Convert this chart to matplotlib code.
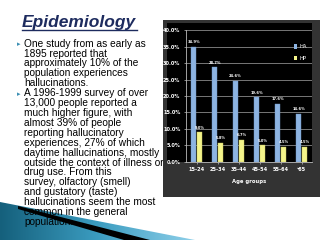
import numpy as np
import matplotlib
matplotlib.use("Agg")
import matplotlib.pyplot as plt
from matplotlib.patches import Rectangle, Polygon, Patch

# chart data
age_groups = ["15-24", "25-34", "35-44", "45-54", "55-64", "³65"]
ha_values = [34.9, 28.7, 24.6, 19.6, 17.6, 14.6]
hp_values = [9.0, 5.8, 6.7, 5.0, 4.5, 4.5]
series_names = ["HA", "HP"]

title = "Epidemiology"
bullet_lines = [
    ["One study from as early as",
     "1895 reported that",
     "approximately 10% of the",
     "population experiences",
     "hallucinations."],
    ["A 1996-1999 survey of over",
     "13,000 people reported a",
     "much higher figure, with",
     "almost 39% of people",
     "reporting hallucinatory",
     "experiences, 27% of which",
     "daytime hallucinations, mostly",
     "outside the context of illness or",
     "drug use. From this",
     "survey, olfactory (smell)",
     "and gustatory (taste)",
     "hallucinations seem the most",
     "common in the general",
     "population."],
]

W, H = 320, 240
fig = plt.figure(figsize=(3.2, 2.4), dpi=100)
fig.patch.set_facecolor("white")


def frac(x0, y0, x1, y1):
    # pixel box (top-left origin) -> figure fraction rect
    return [x0 / W, 1 - y1 / H, (x1 - x0) / W, (y1 - y0) / H]


# slide background layer in pixel coords
bg = fig.add_axes([0, 0, 1, 1])
bg.set_xlim(0, W)
bg.set_ylim(H, 0)
bg.axis("off")

# decorative swoosh bottom left
swoosh = Polygon([(0, 202), (195, 240), (0, 240)], closed=True,
                 facecolor="none", edgecolor="none")
bg.add_patch(swoosh)
grad = np.linspace(0, 1, 256).reshape(1, -1)
cmap = matplotlib.colors.LinearSegmentedColormap.from_list(
    "sw", ["#15607c", "#3b9cc0", "#8fd0ea"])
im = bg.imshow(grad, cmap=cmap, extent=(0, 195, 240, 200), aspect="auto",
               zorder=1)
im.set_clip_path(swoosh)
bg.add_patch(Polygon([(18, 206), (150, 240), (124, 240), (18, 209)],
                     closed=True, facecolor="black", edgecolor="none",
                     zorder=4))

# title
bg.text(22, 26.5, title, fontsize=12.5, fontweight="bold", style="italic",
        family="Liberation Sans", color="#1d2b5e", va="baseline", zorder=3)
bg.plot([22, 137], [29.5, 29.5], color="#1d2b5e", lw=1.0, zorder=3)

# bullet text
line_h = 9.9
y = 46.7
for block in bullet_lines:
    bg.text(18.5, y - 0.5, "▸", fontsize=5, color="#3b8fb3",
            va="baseline", ha="center", zorder=3)
    for line in block:
        bg.text(24, y, line, fontsize=7.3, family="Liberation Sans",
                color="black", va="baseline", zorder=3)
        y += line_h

# chart panel
panel = fig.add_axes(frac(163, 20, 320, 197))
panel.set_xlim(0, 1)
panel.set_ylim(0, 1)
panel.set_facecolor("#333333")
panel.set_xticks([])
panel.set_yticks([])
for s in panel.spines.values():
    s.set_visible(False)
panel.add_patch(Rectangle((4 / 157, 35 / 177), 145 / 157, 139 / 177,
                          facecolor="black", edgecolor="none"))

# bar chart
ax = fig.add_axes(frac(186, 30.3, 312, 161.7))
ax.set_facecolor("none")
x = np.arange(len(age_groups))
bw = 0.25
b1 = ax.bar(x - 0.14, ha_values, bw, color="#8db4e2", edgecolor="#6f97c8",
            linewidth=0.3, label=series_names[0], zorder=3)
b2 = ax.bar(x + 0.14, hp_values, bw, color="#f4f48a", edgecolor="#c8c860",
            linewidth=0.3, label=series_names[1], zorder=3)
for bars, vals in [(b1, ha_values), (b2, hp_values)]:
    for r, v in zip(bars, vals):
        ax.text(r.get_x() + r.get_width() / 2, v + 0.8, f"{v:.1f}%",
                ha="center", va="bottom", fontsize=2.6, color="white",
                fontweight="bold")

ax.set_xlim(-0.5, len(age_groups) - 0.5)
ax.set_ylim(0, 40)
ax.set_yticks(np.arange(0, 41, 5))
ax.set_yticklabels([f"{v:.1f}%" for v in np.arange(0, 41, 5)])
ax.set_xticks(x)
ax.set_xticklabels(age_groups)
ax.tick_params(colors="#bbbbbb", labelcolor="white", labelsize=3.6,
               length=1.5, width=0.5, pad=2.5)
for lab in ax.get_xticklabels() + ax.get_yticklabels():
    lab.set_fontweight("bold")
ax.yaxis.grid(True, color="#8a8a8a", lw=0.6)
ax.set_axisbelow(True)
for side in ["top", "right"]:
    ax.spines[side].set_visible(False)
for side in ["left", "bottom"]:
    ax.spines[side].set_color("#bbbbbb")
    ax.spines[side].set_linewidth(0.6)
ax.set_xlabel("Age groups", color="white", fontsize=3.8, fontweight="bold",
              labelpad=5)

handles = [Patch(facecolor="#8db4e2", label=series_names[0]),
           Patch(facecolor="#f4f48a", label=series_names[1])]
leg = ax.legend(handles=handles, loc="upper right",
                bbox_to_anchor=(1.0, 0.93), frameon=False, fontsize=3.8,
                labelcolor="white", handlelength=0.5, handleheight=0.9,
                handletextpad=0.5, labelspacing=1.2)

fig.savefig("out.png", dpi=100, facecolor="white")
